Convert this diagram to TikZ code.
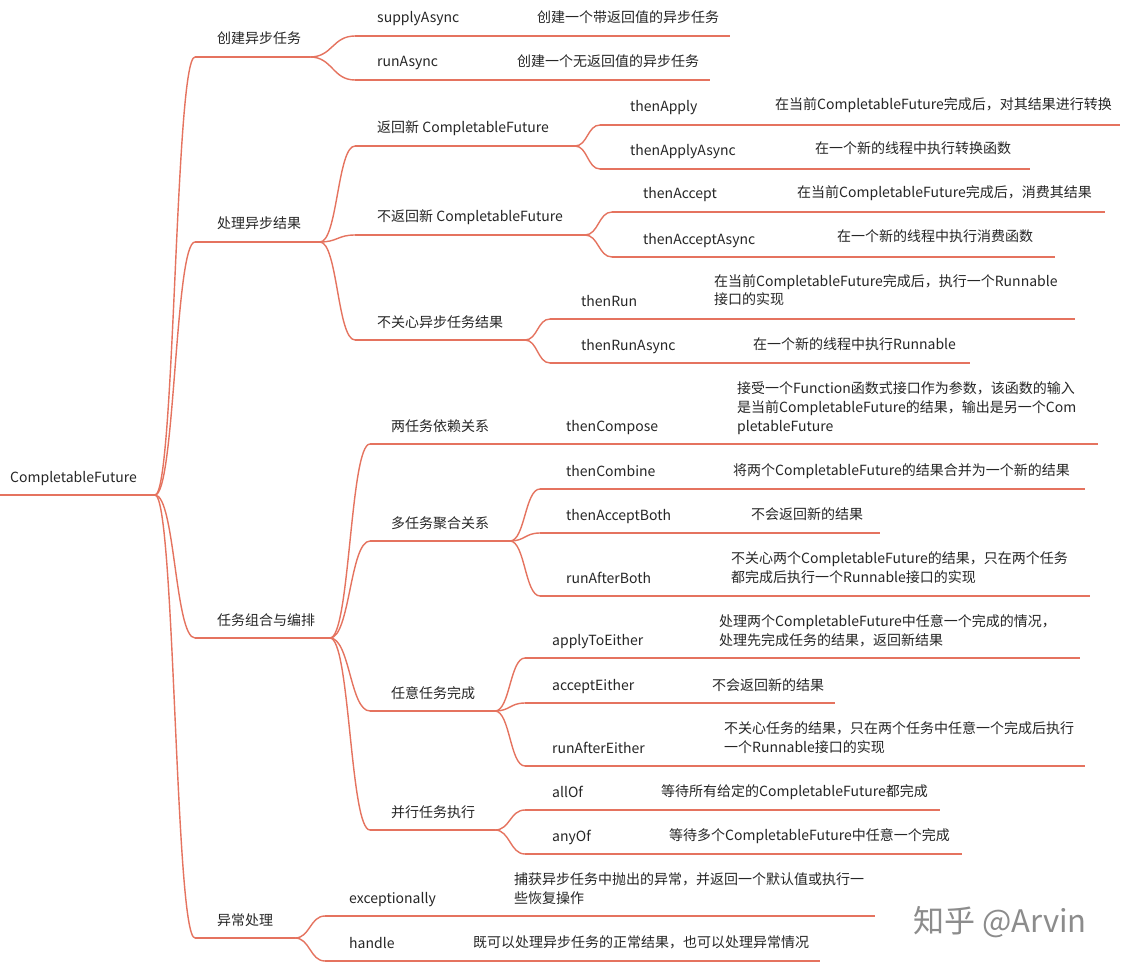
\documentclass[tikz,border=0pt]{standalone}
\usepackage{fontspec}
\setmainfont{Noto Sans CJK SC}
\usetikzlibrary{calc}
\definecolor{lc}{HTML}{E5735F}
\tikzset{ml/.style={draw=lc,line width=1.4pt},
 lab/.style={inner sep=0pt,font=\fontsize{14}{16}\selectfont,text=black!85,anchor=base west}}
\newcommand\itm[6]{\coordinate (#1s) at (#2,#4);\coordinate (#1e) at (#3,#4);
 \draw[ml] (#1s)--(#1e);\node[lab] (#1) at (#5,#4-13) {#6};}
\newcommand\dsc[4]{\node[lab] (#1) at (#2,#3) {#4};}
\newcommand\conn[2]{\draw[ml] let \p1=(#1e),\p2=(#2s) in (\p1) .. controls ({(\x1+\x2)/2},\y1) and ({(\x1+\x2)/2},\y2) .. (\p2);}
\begin{document}
\begin{tikzpicture}[x=1pt,y=-1pt]
\useasboundingbox[fill=white] (0,0) rectangle (1134,968);
\itm{r}{0}{155}{495}{10}{CompletableFuture}
% level 1
\itm{a}{195}{310}{57}{217}{创建异步任务}
\itm{b}{195}{320}{242}{217}{处理异步结果}
\itm{c}{195}{330}{638}{217}{任务组合与编排}
\itm{d}{195}{295}{938}{217}{异常处理}
\conn{r}{a}\conn{r}{b}\conn{r}{c}\conn{r}{d}
% a
\itm{a1}{355}{730}{36}{377}{supplyAsync}
\dsc{a1d}{537}{23}{创建一个带返回值的异步任务}
\itm{a2}{355}{710}{80}{377}{runAsync}
\dsc{a2d}{517}{67}{创建一个无返回值的异步任务}
\conn{a}{a1}\conn{a}{a2}
% b
\itm{b1}{355}{575}{146}{377}{返回新 CompletableFuture}
\itm{b2}{355}{585}{235}{377}{不返回新 CompletableFuture}
\itm{b3}{355}{525}{340}{377}{不关心异步任务结果}
\conn{b}{b1}\conn{b}{b2}\conn{b}{b3}
\itm{b11}{600}{1120}{125}{630}{thenApply}
\dsc{b11d}{775}{110}{在当前CompletableFuture完成后，对其结果进行转换}
\itm{b12}{600}{1030}{169}{630}{thenApplyAsync}
\dsc{b12d}{815}{154}{在一个新的线程中执行转换函数}
\conn{b1}{b11}\conn{b1}{b12}
\itm{b21}{612}{1105}{212}{643}{thenAccept}
\dsc{b21d}{797}{198}{在当前CompletableFuture完成后，消费其结果}
\itm{b22}{612}{1055}{257}{643}{thenAcceptAsync}
\dsc{b22d}{837}{242}{在一个新的线程中执行消费函数}
\conn{b2}{b21}\conn{b2}{b22}
\itm{b31}{550}{1075}{319}{581}{thenRun}
\dsc{b31d}{714}{286}{在当前CompletableFuture完成后，执行一个Runnable}
\dsc{b31e}{714}{304}{接口的实现}
\itm{b32}{550}{970}{363}{581}{thenRunAsync}
\dsc{b32d}{753}{349}{在一个新的线程中执行Runnable}
\conn{b3}{b31}\conn{b3}{b32}
% c
\itm{c1}{370}{1098}{444}{391}{两任务依赖关系}
\node[lab] (c1t) at (566,431) {thenCompose};
\dsc{c1d}{737}{393}{接受一个Function函数式接口作为参数，该函数的输入}
\dsc{c1e}{737}{412}{是当前CompletableFuture的结果，输出是另一个Com}
\dsc{c1f}{737}{431}{pletableFuture}
\itm{c2}{370}{510}{541}{391}{多任务聚合关系}
\itm{c3}{370}{495}{711}{391}{任意任务完成}
\itm{c4}{370}{495}{830}{391}{并行任务执行}
\conn{c}{c1}\conn{c}{c2}\conn{c}{c3}\conn{c}{c4}
\itm{c21}{540}{1085}{489}{566}{thenCombine}
\dsc{c21d}{733}{475}{将两个CompletableFuture的结果合并为一个新的结果}
\itm{c22}{540}{880}{533}{566}{thenAcceptBoth}
\dsc{c22d}{751}{519}{不会返回新的结果}
\itm{c23}{540}{1090}{596}{566}{runAfterBoth}
\dsc{c23d}{731}{563}{不关心两个CompletableFuture的结果，只在两个任务}
\dsc{c23e}{731}{582}{都完成后执行一个Runnable接口的实现}
\conn{c2}{c21}\conn{c2}{c22}\conn{c2}{c23}
\itm{c31}{525}{1080}{658}{552}{applyToEither}
\dsc{c31d}{719}{626}{处理两个CompletableFuture中任意一个完成的情况，}
\dsc{c31e}{719}{645}{处理先完成任务的结果，返回新结果}
\itm{c32}{525}{835}{703}{552}{acceptEither}
\dsc{c32d}{712}{690}{不会返回新的结果}
\itm{c33}{525}{1085}{766}{552}{runAfterEither}
\dsc{c33d}{724}{733}{不关心任务的结果，只在两个任务中任意一个完成后执行}
\dsc{c33e}{724}{752}{一个Runnable接口的实现}
\conn{c3}{c31}\conn{c3}{c32}\conn{c3}{c33}
\itm{c41}{525}{940}{810}{552}{allOf}
\dsc{c41d}{661}{796}{等待所有给定的CompletableFuture都完成}
\itm{c42}{525}{962}{854}{552}{anyOf}
\dsc{c42d}{669}{840}{等待多个CompletableFuture中任意一个完成}
\conn{c4}{c41}\conn{c4}{c42}
% d
\itm{d1}{325}{875}{916}{349}{exceptionally}
\dsc{d1d}{514}{884}{捕获异步任务中抛出的异常，并返回一个默认值或执行一}
\dsc{d1e}{514}{903}{些恢复操作}
\itm{d2}{325}{820}{961}{349}{handle}
\dsc{d2d}{473}{947}{既可以处理异步任务的正常结果，也可以处理异常情况}
\conn{d}{d1}\conn{d}{d2}
\node[inner sep=0pt,anchor=base west,font=\fontsize{31}{32}\selectfont,text=black!45] (wm) at (913,932) {知乎 @Arvin};
\end{tikzpicture}
\end{document}
